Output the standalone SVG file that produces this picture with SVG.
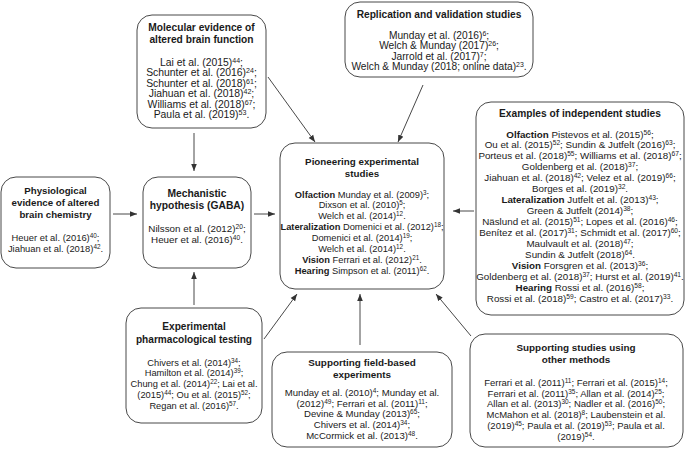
<svg xmlns="http://www.w3.org/2000/svg" width="685" height="449" viewBox="0 0 685 449">
<style>
text{font-family:"Liberation Sans",Arial,sans-serif;fill:#1a1a1a;text-anchor:middle;font-size:9.6px}
.t{font-weight:bold}
.b{font-weight:bold}
.s{font-size:0.68em;baseline-shift:3.5px}
.box{fill:#fff;stroke:#333;stroke-width:0.9}
.c line{stroke:#333;stroke-width:0.9;marker-end:url(#ah)}
#molecular text{font-size:10.4px} #molecular .t{font-size:10.2px}
#replication text{font-size:10.2px}
#physiological text{font-size:9.4px} #physiological .t{font-size:9.7px}
#mechanistic text{font-size:9.8px} #mechanistic .t{font-size:10.3px}
#pioneering text{font-size:9.3px} #pioneering .t{font-size:9.8px}
#independent text{font-size:9.8px} #independent .t{font-size:10.2px}
#pharmacological text{font-size:9.3px} #pharmacological .t{font-size:10.1px}
#field text{font-size:9.6px} #field .t{font-size:9.9px}
#other-methods text{font-size:9.5px} #other-methods .t{font-size:9.9px}
</style>
<defs>
<marker id="ah" viewBox="0 0 10 10" refX="10" refY="5" markerWidth="7" markerHeight="7" markerUnits="userSpaceOnUse" orient="auto">
<path d="M0,1 L10,5 L0,9 Z" fill="#333"/>
</marker>
</defs>
<rect width="685" height="449" fill="#fff"/>

<g class="c" id="connectors">
<line x1="194" y1="133" x2="194" y2="171"/>
<line x1="113" y1="214" x2="137" y2="214"/>
<line x1="254" y1="214" x2="275" y2="214"/>
<line x1="268" y1="77" x2="315" y2="142"/>
<line x1="423" y1="85" x2="398" y2="142"/>
<line x1="474" y1="211" x2="453" y2="211"/>
<line x1="194" y1="305" x2="194" y2="272"/>
<line x1="264" y1="339" x2="297" y2="294"/>
<line x1="360" y1="345" x2="360" y2="294"/>
<line x1="471" y1="336" x2="436" y2="294"/>
</g>

<g id="molecular">
<rect class="box" x="137" y="15" width="129" height="113" rx="15"/>
<text class="t" x="201.5" y="30.5">Molecular evidence of</text>
<text class="t" x="201.5" y="43">altered brain function</text>
<text x="201.5" y="65.5">Lai et al. (2015)<tspan class="s">44</tspan>;</text>
<text x="201.5" y="76">Schunter et al. (2016)<tspan class="s">24</tspan>;</text>
<text x="201.5" y="86.5">Schunter et al. (2018)<tspan class="s">61</tspan>;</text>
<text x="201.5" y="97">Jiahuan et al. (2018)<tspan class="s">42</tspan>;</text>
<text x="201.5" y="107.5">Williams et al. (2018)<tspan class="s">67</tspan>;</text>
<text x="201.5" y="118">Paula et al. (2019)<tspan class="s">53</tspan>.</text>
</g>

<g id="replication">
<rect class="box" x="345" y="2" width="188" height="75" rx="15"/>
<text class="t" x="439" y="17.5">Replication and validation studies</text>
<text x="439" y="38.5">Munday et al. (2016)<tspan class="s">6</tspan>;</text>
<text x="439" y="49">Welch &amp; Munday (2017)<tspan class="s">26</tspan>;</text>
<text x="439" y="59.5">Jarrold et al. (2017)<tspan class="s">7</tspan>;</text>
<text x="439" y="70">Welch &amp; Munday (2018; online data)<tspan class="s">23</tspan>.</text>
</g>

<g id="physiological">
<rect class="box" x="1" y="177" width="109" height="91" rx="15"/>
<text class="t" x="55.5" y="194">Physiological</text>
<text class="t" x="55.5" y="206">evidence of altered</text>
<text class="t" x="55.5" y="218">brain chemistry</text>
<text x="55.5" y="240.5">Heuer et al. (2016)<tspan class="s">40</tspan>;</text>
<text x="55.5" y="251.5">Jiahuan et al. (2018)<tspan class="s">42</tspan>.</text>
</g>

<g id="mechanistic">
<rect class="box" x="143" y="177" width="108" height="91" rx="15"/>
<text class="t" x="197" y="197">Mechanistic</text>
<text class="t" x="197" y="209">hypothesis (GABA)</text>
<text x="197" y="231.5">Nilsson et al. (2012)<tspan class="s">20</tspan>;</text>
<text x="197" y="243">Heuer et al. (2016)<tspan class="s">40</tspan>.</text>
</g>

<g id="pioneering">
<rect class="box" x="280" y="143" width="164" height="146" rx="15"/>
<text class="t" x="362" y="165">Pioneering experimental</text>
<text class="t" x="362" y="176.5">studies</text>
<text x="362" y="197.5"><tspan class="b">Olfaction</tspan> Munday et al. (2009)<tspan class="s">3</tspan>;</text>
<text x="362" y="208.4">Dixson et al. (2010)<tspan class="s">5</tspan>;</text>
<text x="362" y="219.3">Welch et al. (2014)<tspan class="s">12</tspan>.</text>
<text x="362" y="230.2"><tspan class="b">Lateralization</tspan> Domenici et al. (2012)<tspan class="s">18</tspan>;</text>
<text x="362" y="241.1">Domenici et al. (2014)<tspan class="s">19</tspan>;</text>
<text x="362" y="252">Welch et al. (2014)<tspan class="s">12</tspan>.</text>
<text x="362" y="262.9"><tspan class="b">Vision</tspan> Ferrari et al. (2012)<tspan class="s">21</tspan>.</text>
<text x="362" y="273.8"><tspan class="b">Hearing</tspan> Simpson et al. (2011)<tspan class="s">62</tspan>.</text>
</g>

<g id="independent">
<rect class="box" x="476" y="102" width="208" height="213" rx="15"/>
<text class="t" x="580" y="117">Examples of independent studies</text>
<text x="580" y="137.5"><tspan class="b">Olfaction</tspan> Pistevos et al. (2015)<tspan class="s">56</tspan>;</text>
<text x="580" y="148.4">Ou et al. (2015)<tspan class="s">52</tspan>; Sundin &amp; Jutfelt (2016)<tspan class="s">63</tspan>;</text>
<text x="580" y="159.4">Porteus et al. (2018)<tspan class="s">55</tspan>; Williams et al. (2018)<tspan class="s">67</tspan>;</text>
<text x="580" y="170.3">Goldenberg et al. (2018)<tspan class="s">37</tspan>;</text>
<text x="580" y="181.2">Jiahuan et al. (2018)<tspan class="s">42</tspan>; Velez et al. (2019)<tspan class="s">66</tspan>;</text>
<text x="580" y="192.2">Borges et al. (2019)<tspan class="s">32</tspan>.</text>
<text x="580" y="203.1"><tspan class="b">Lateralization</tspan> Jutfelt et al. (2013)<tspan class="s">43</tspan>;</text>
<text x="580" y="214">Green &amp; Jutfelt (2014)<tspan class="s">38</tspan>;</text>
<text x="580" y="224.9">Näslund et al. (2015)<tspan class="s">51</tspan>; Lopes et al. (2016)<tspan class="s">46</tspan>;</text>
<text x="580" y="235.9">Benítez et al. (2017)<tspan class="s">31</tspan>; Schmidt et al. (2017)<tspan class="s">60</tspan>;</text>
<text x="580" y="246.8">Maulvault et al. (2018)<tspan class="s">47</tspan>;</text>
<text x="580" y="257.7">Sundin &amp; Jutfelt (2018)<tspan class="s">64</tspan>.</text>
<text x="580" y="268.7"><tspan class="b">Vision</tspan> Forsgren et al. (2013)<tspan class="s">36</tspan>;</text>
<text x="580" y="279.6">Goldenberg et al. (2018)<tspan class="s">37</tspan>; Hurst et al. (2019)<tspan class="s">41</tspan>.</text>
<text x="580" y="290.5"><tspan class="b">Hearing</tspan> Rossi et al. (2016)<tspan class="s">58</tspan>;</text>
<text x="580" y="301.5">Rossi et al. (2018)<tspan class="s">59</tspan>; Castro et al. (2017)<tspan class="s">33</tspan>.</text>
</g>

<g id="pharmacological">
<rect class="box" x="126" y="308" width="136" height="115" rx="15"/>
<text class="t" x="194" y="330">Experimental</text>
<text class="t" x="194" y="343">pharmacological testing</text>
<text x="194" y="365.5">Chivers et al. (2014)<tspan class="s">34</tspan>;</text>
<text x="194" y="376.3">Hamilton et al. (2014)<tspan class="s">39</tspan>;</text>
<text x="194" y="387">Chung et al. (2014)<tspan class="s">22</tspan>; Lai et al.</text>
<text x="194" y="397.8">(2015)<tspan class="s">44</tspan>; Ou et al. (2015)<tspan class="s">52</tspan>;</text>
<text x="194" y="408.5">Regan et al. (2016)<tspan class="s">57</tspan>.</text>
</g>

<g id="field">
<rect class="box" x="272" y="352" width="180" height="95" rx="15"/>
<text class="t" x="362" y="366">Supporting field-based</text>
<text class="t" x="362" y="377.5">experiments</text>
<text x="362" y="395.5">Munday et al. (2010)<tspan class="s">4</tspan>; Munday et al.</text>
<text x="362" y="406.5">(2012)<tspan class="s">49</tspan>; Ferrari et al. (2011)<tspan class="s">11</tspan>;</text>
<text x="362" y="417.3">Devine &amp; Munday (2013)<tspan class="s">65</tspan>;</text>
<text x="362" y="428">Chivers et al. (2014)<tspan class="s">34</tspan>;</text>
<text x="362" y="439">McCormick et al. (2013)<tspan class="s">48</tspan>.</text>
</g>

<g id="other-methods">
<rect class="box" x="470" y="334" width="213" height="113" rx="15"/>
<text class="t" x="576" y="351">Supporting studies using</text>
<text class="t" x="576" y="362.5">other methods</text>
<text x="576" y="385.5">Ferrari et al. (2011)<tspan class="s">11</tspan>; Ferrari et al. (2015)<tspan class="s">14</tspan>;</text>
<text x="576" y="396.5">Ferrari et al. (2011)<tspan class="s">35</tspan>; Allan et al. (2014)<tspan class="s">25</tspan>;</text>
<text x="576" y="407.3">Allan et al. (2013)<tspan class="s">30</tspan>; Nadler et al. (2016)<tspan class="s">50</tspan>;</text>
<text x="576" y="418">McMahon et al. (2018)<tspan class="s">8</tspan>; Laubenstein et al.</text>
<text x="576" y="429">(2019)<tspan class="s">45</tspan>; Paula et al. (2019)<tspan class="s">53</tspan>; Paula et al.</text>
<text x="576" y="440">(2019)<tspan class="s">54</tspan>.</text>
</g>
</svg>
